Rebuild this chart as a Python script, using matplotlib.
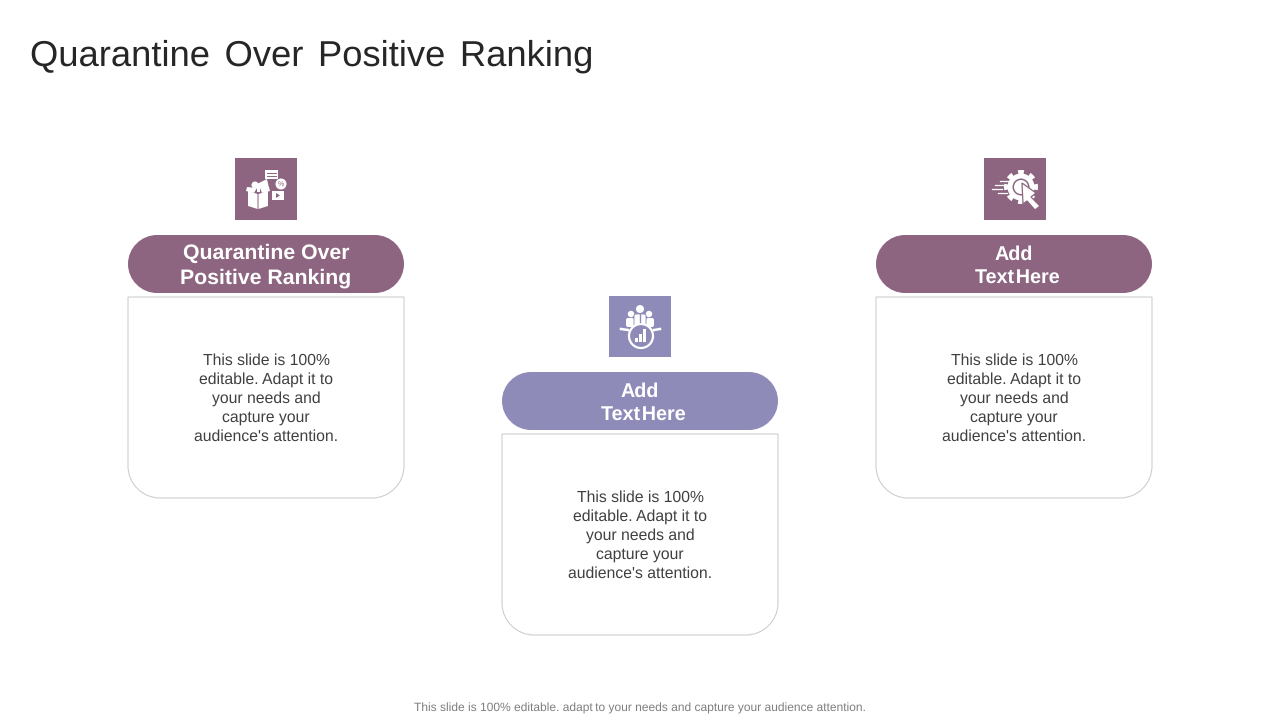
import matplotlib
matplotlib.use("Agg")
import matplotlib.pyplot as plt
from matplotlib.patches import Rectangle, FancyBboxPatch, PathPatch, Circle, Polygon, Wedge
from matplotlib.path import Path

plt.rcParams['font.family'] = ['Liberation Sans', 'DejaVu Sans']
plt.rcParams['text.hinting'] = 'no_hinting'

title = "Quarantine\u2009\u2009Over\u2009\u2009Positive\u2009\u2009Ranking"
footer = "This slide is 100% editable. adapt\u2009to your needs and capture your audience attention."
body = ["This slide is 100%", "editable. Adapt it to", "your needs and", "capture your", "audience's attention."]

headings = [["Quarantine Over", "Positive Ranking"], ["Add", "Text\u200aHere"], ["Add", "Text\u200aHere"]]
heading_size = [15.3, 14.2, 14.2]
colors = ["#8d6580", "#8e8bb8", "#8d6580"]
lefts = [128, 502, 876]
tops = [235, 372, 235]

fig = plt.figure(figsize=(12.8, 7.2), dpi=100)
ax = fig.add_axes([0, 0, 1, 1])
ax.set_xlim(0, 1280)
ax.set_ylim(720, 0)
ax.axis("off")


def card(x, y, w, h, r):
    # square top corners, round bottom ones
    k = 0.55 * r
    verts = [(x, y), (x + w, y), (x + w, y + h - r),
             (x + w, y + h - r + k), (x + w - r + k, y + h), (x + w - r, y + h),
             (x + r, y + h),
             (x + r - k, y + h), (x, y + h - r + k), (x, y + h - r),
             (x, y)]
    codes = [Path.MOVETO, Path.LINETO, Path.LINETO,
             Path.CURVE4, Path.CURVE4, Path.CURVE4,
             Path.LINETO,
             Path.CURVE4, Path.CURVE4, Path.CURVE4,
             Path.CLOSEPOLY]
    ax.add_patch(PathPatch(Path(verts, codes), fc="white", ec="#c8c8c8", lw=0.7))


def pill(x, y, w, h, col):
    r = h / 2
    k = 0.55 * r
    verts = [(x + r, y), (x + w - r, y),
             (x + w - r + k, y), (x + w, y + r - k), (x + w, y + r),
             (x + w, y + r + k), (x + w - r + k, y + h), (x + w - r, y + h),
             (x + r, y + h),
             (x + r - k, y + h), (x, y + r + k), (x, y + r),
             (x, y + r - k), (x + r - k, y), (x + r, y),
             (x + r, y)]
    codes = [Path.MOVETO, Path.LINETO] + [Path.CURVE4] * 6 + [Path.LINETO] + [Path.CURVE4] * 6 + [Path.CLOSEPOLY]
    ax.add_patch(PathPatch(Path(verts, codes), fc=col, ec="none"))


def box_icon(cx, cy, col):
    w = "white"
    # open box
    ax.add_patch(Polygon([(cx-18, cy+2), (cx-8.5, cy+5), (cx-8.5, cy+20), (cx-18, cy+17)], fc=w, ec="none"))
    ax.add_patch(Polygon([(cx-7.5, cy+5), (cx+2, cy+2), (cx+2, cy+17), (cx-7.5, cy+20)], fc=w, ec="none"))
    ax.add_patch(Polygon([(cx-19, cy-2), (cx-9, cy-1), (cx-12, cy+4), (cx-20, cy+2)], fc=w, ec="none"))
    ax.add_patch(Polygon([(cx-6, cy-1), (cx+3, cy-2), (cx+4, cy+2), (cx-4, cy+4)], fc=w, ec="none"))
    # megaphone
    ax.add_patch(Polygon([(cx-9, cy-5), (cx+1, cy-10), (cx+3, cy-1), (cx-7, cy-1)], fc=w, ec="none"))
    ax.add_patch(Circle((cx-11, cy-4), 3.5, fc=w, ec="none"))
    ax.add_patch(Rectangle((cx-9, cy-3), 3, 6, fc=w, ec="none"))
    # message
    ax.add_patch(Rectangle((cx-1, cy-19), 13, 9, fc=w, ec="none"))
    ax.plot([cx+1, cx+10], [cy-16.5, cy-16.5], color=col, lw=0.7)
    ax.plot([cx+1, cx+10], [cy-13.5, cy-13.5], color=col, lw=0.7)
    # percent badge
    ax.add_patch(Circle((cx+15, cy-5), 5.5, fc=w, ec="none"))
    ax.text(cx+15, cy-5, "%", color=col, fontsize=5, ha="center", va="center")
    # video
    ax.add_patch(Rectangle((cx+6, cy+2), 12, 9, fc=w, ec="none"))
    ax.add_patch(Polygon([(cx+10, cy+4), (cx+10, cy+9), (cx+14, cy+6.5)], fc=col, ec="none"))


def people_icon(cx, cy, col):
    w = "white"
    for dx, hy, r in [(-9, -12, 3.2), (9, -12, 3.2), (0, -17, 4)]:
        ax.add_patch(Circle((cx+dx, cy+hy), r, fc=w, ec="none"))
    ax.add_patch(FancyBboxPatch((cx-14, cy-8), 8, 9, boxstyle="round,pad=0,rounding_size=2", fc=w, ec="none"))
    ax.add_patch(FancyBboxPatch((cx+6, cy-8), 8, 9, boxstyle="round,pad=0,rounding_size=2", fc=w, ec="none"))
    ax.add_patch(FancyBboxPatch((cx-6, cy-12), 12, 13, boxstyle="round,pad=0,rounding_size=2", fc=w, ec=col, lw=0.6))
    ax.plot([cx, cx], [cy-12, cy-4], color=col, lw=1)
    # side arms
    ax.plot([cx-19, cx-12], [cy+3, cy+4], color=w, lw=1.8)
    ax.plot([cx+14, cx+20], [cy+4, cy+3], color=w, lw=1.8)
    # ring with bars
    ax.add_patch(Circle((cx+1, cy+10), 12, fc=col, ec=w, lw=1.6))
    for dx, bh in [(-5, 4), (-1, 8), (3, 13)]:
        ax.add_patch(Rectangle((cx+dx, cy+16-bh), 3, bh, fc=w, ec="none"))


def gear_icon(cx, cy, col):
    w = "white"
    gx = cx + 6
    gy = cy - 2
    for a in range(0, 360, 45):
        ax.add_patch(Wedge((gx, gy), 17, a-11, a+11, fc=w, ec="none"))
    ax.add_patch(Circle((gx, gy), 13.5, fc=w, ec="none"))
    ax.add_patch(Circle((gx, gy), 8.5, fc=col, ec="none"))
    ax.add_patch(Circle((gx, gy), 7, fc=w, ec="none"))
    # pointer
    ax.add_patch(Polygon([(cx+7, cy-6), (cx+21, cy+4), (cx+16, cy+8), (cx+25, cy+17),
                          (cx+20, cy+21), (cx+12, cy+12), (cx+8, cy+15)], fc=w, ec=col, lw=0.9))
    # speed lines
    for x0, x1, dy in [(-15, -7, -8), (-20, -12, -4), (-23, -13, 0), (-17, -8, 4)]:
        ax.plot([cx+x0, cx+x1], [cy+dy, cy+dy], color=w, lw=0.9)


icons = [box_icon, people_icon, gear_icon]

ax.text(30, 66, title, fontsize=26.2, color="#262626", ha="left", va="baseline")

for i in range(3):
    x = lefts[i]
    y = tops[i]
    col = colors[i]
    # icon square, the right one sits a pixel further over
    sx = x + 107 + (1 if i == 2 else 0)
    sy = y - 76 if i == 1 else y - 77
    ax.add_patch(Rectangle((sx, sy), 62, y - 15 - sy, fc=col, ec="none"))
    icons[i](sx + 31, y - 46, col)
    # heading pill
    pill(x, y, 276, 58, col)
    first_y = y + 23.5 if i == 0 else y + 25
    second_y = y + 49 if i == 0 else y + 48
    second_x = x + 138 if i == 0 else x + 141.5
    ax.text(x + 138, first_y, headings[i][0], fontsize=heading_size[i], fontweight="bold", color="white", ha="center", va="baseline")
    ax.text(second_x, second_y, headings[i][1], fontsize=heading_size[i], fontweight="bold", color="white", ha="center", va="baseline")
    # text card
    card(x, y + 62, 276, 201, 32)
    for j, line in enumerate(body):
        ax.text(x + 138, y + 129.5 + j * 19, line, fontsize=11.3, color="#404040", ha="center", va="baseline")

ax.text(640, 711.5, footer, fontsize=8.67, color="#7f7f7f", ha="center", va="baseline")

fig.savefig("out.png", dpi=100)
